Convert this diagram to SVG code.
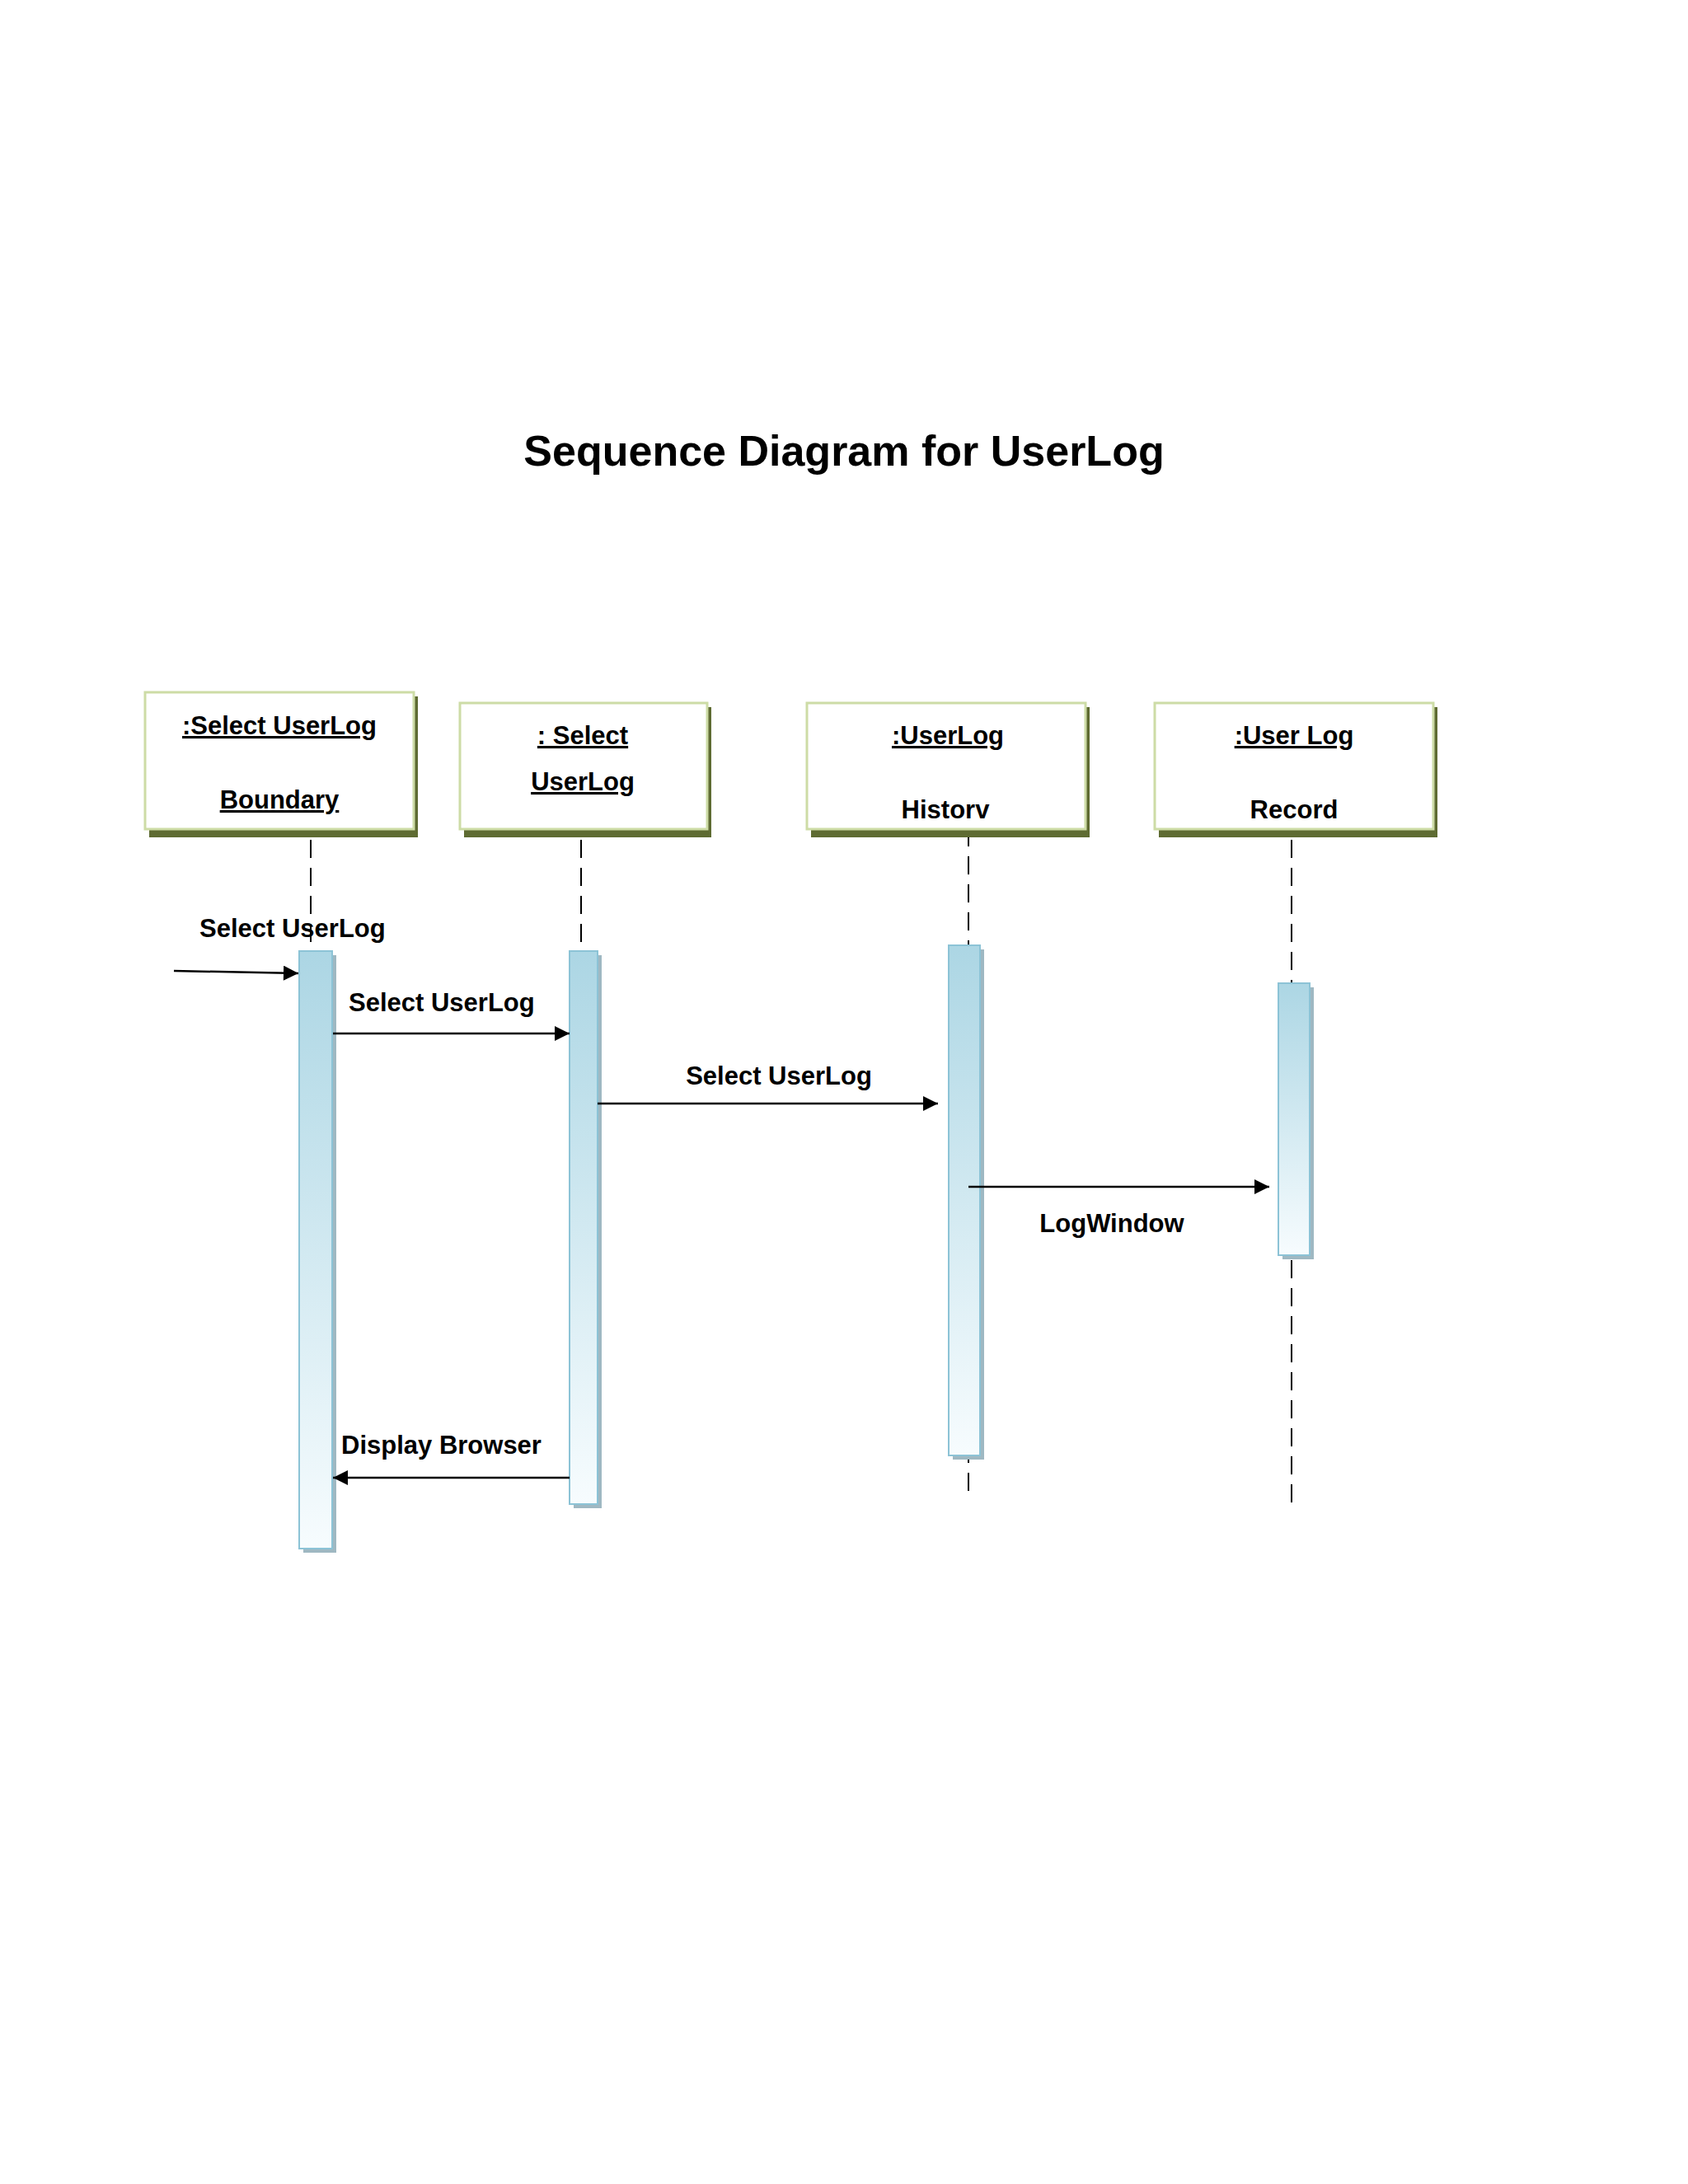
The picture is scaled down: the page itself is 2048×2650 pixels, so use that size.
<svg xmlns="http://www.w3.org/2000/svg" width="2048" height="2650" viewBox="0 0 2048 2650">
<defs>
<linearGradient id="act" x1="0" y1="0" x2="0" y2="1"><stop offset="0" stop-color="#acd6e4"/><stop offset="1" stop-color="#f7fcfe"/></linearGradient>
<marker id="ah" markerWidth="10" markerHeight="10" refX="9" refY="5" orient="auto" markerUnits="userSpaceOnUse"><path d="M0,0 L10,5 L0,10 z" fill="#000"/></marker>
<marker id="ah2" viewBox="0 0 10 10" markerWidth="20" markerHeight="18" refX="10" refY="5" orient="auto" markerUnits="userSpaceOnUse"><path d="M0,0 L10,5 L0,10 z" fill="#000"/></marker>
</defs>
<style>
text{font-family:"Liberation Sans",Arial,sans-serif;font-weight:bold;fill:#000}
.lbl{font-size:31px}
.u{text-decoration:underline}
.box{fill:#fff;stroke:#cddca6;stroke-width:3}
.sh{fill:#5e6b32}
.life{stroke:#000;stroke-width:2;stroke-dasharray:22,12;fill:none}
.act{fill:url(#act);stroke:#8cc3d6;stroke-width:2}
.ash{fill:#9fb8c2}
.msg{stroke:#000;stroke-width:2.5;fill:none;marker-end:url(#ah2)}
</style>
<rect width="2048" height="2650" fill="#fff"/>
<text x="1024" y="565" font-size="52" text-anchor="middle">Sequence Diagram for UserLog</text>
<g id="lifelines">
<line class="life" x1="377" y1="1019" x2="377" y2="1154"/>
<line class="life" x1="705" y1="1019" x2="705" y2="1830"/>
<line class="life" x1="1175" y1="1005" x2="1175" y2="1815"/>
<line class="life" x1="1567" y1="1019" x2="1567" y2="1830"/>
</g>
<g id="n1"><rect class="sh" x="181" y="845" width="326" height="171"/><rect class="box" x="176" y="840" width="326" height="166"/>
<text class="lbl u" x="339" y="891" text-anchor="middle">:Select UserLog</text><text class="lbl u" x="339" y="981" text-anchor="middle">Boundary</text></g>
<g id="n2"><rect class="sh" x="563" y="858" width="300" height="158"/><rect class="box" x="558" y="853" width="300" height="153"/>
<text class="lbl u" x="707" y="903" text-anchor="middle">: Select </text><text class="lbl u" x="707" y="959" text-anchor="middle">UserLog</text></g>
<g id="n3"><rect class="sh" x="984" y="858" width="338" height="158"/><rect class="box" x="979" y="853" width="338" height="153"/>
<text class="lbl u" x="1150" y="903" text-anchor="middle">:UserLog</text><text class="lbl" x="1147" y="993" text-anchor="middle">Historv</text></g>
<g id="n4"><rect class="sh" x="1406" y="858" width="338" height="158"/><rect class="box" x="1401" y="853" width="338" height="153"/>
<text class="lbl u" x="1570" y="903" text-anchor="middle">:User Log</text><text class="lbl" x="1570" y="993" text-anchor="middle">Record</text></g>
<g id="activations">
<rect class="ash" x="368" y="1159" width="40" height="725"/><rect class="act" x="363" y="1154" width="40" height="725"/>
<rect class="ash" x="696" y="1159" width="34" height="671"/><rect class="act" x="691" y="1154" width="34" height="671"/>
<rect class="ash" x="1156" y="1152" width="38" height="619"/><rect class="act" x="1151" y="1147" width="38" height="619"/>
<rect class="ash" x="1556" y="1198" width="38" height="330"/><rect class="act" x="1551" y="1193" width="38" height="330"/>
</g>
<g id="connectors">
<line class="msg" x1="211" y1="1178" x2="362" y2="1181"/>
<line class="msg" x1="404" y1="1254" x2="691" y2="1254"/>
<line class="msg" x1="725" y1="1339" x2="1138" y2="1339"/>
<line class="msg" x1="1175" y1="1440" x2="1540" y2="1440"/>
<line class="msg" x1="691" y1="1793" x2="404" y2="1793"/>
</g>
<g id="labels">
<text class="lbl" x="242" y="1137">Select UserLog</text>
<text class="lbl" x="423" y="1227">Select UserLog</text>
<text class="lbl" x="945" y="1316" text-anchor="middle">Select UserLog</text>
<text class="lbl" x="1349" y="1495" text-anchor="middle">LogWindow</text>
<text class="lbl" x="414" y="1764">Display Browser</text>
</g>
</svg>
